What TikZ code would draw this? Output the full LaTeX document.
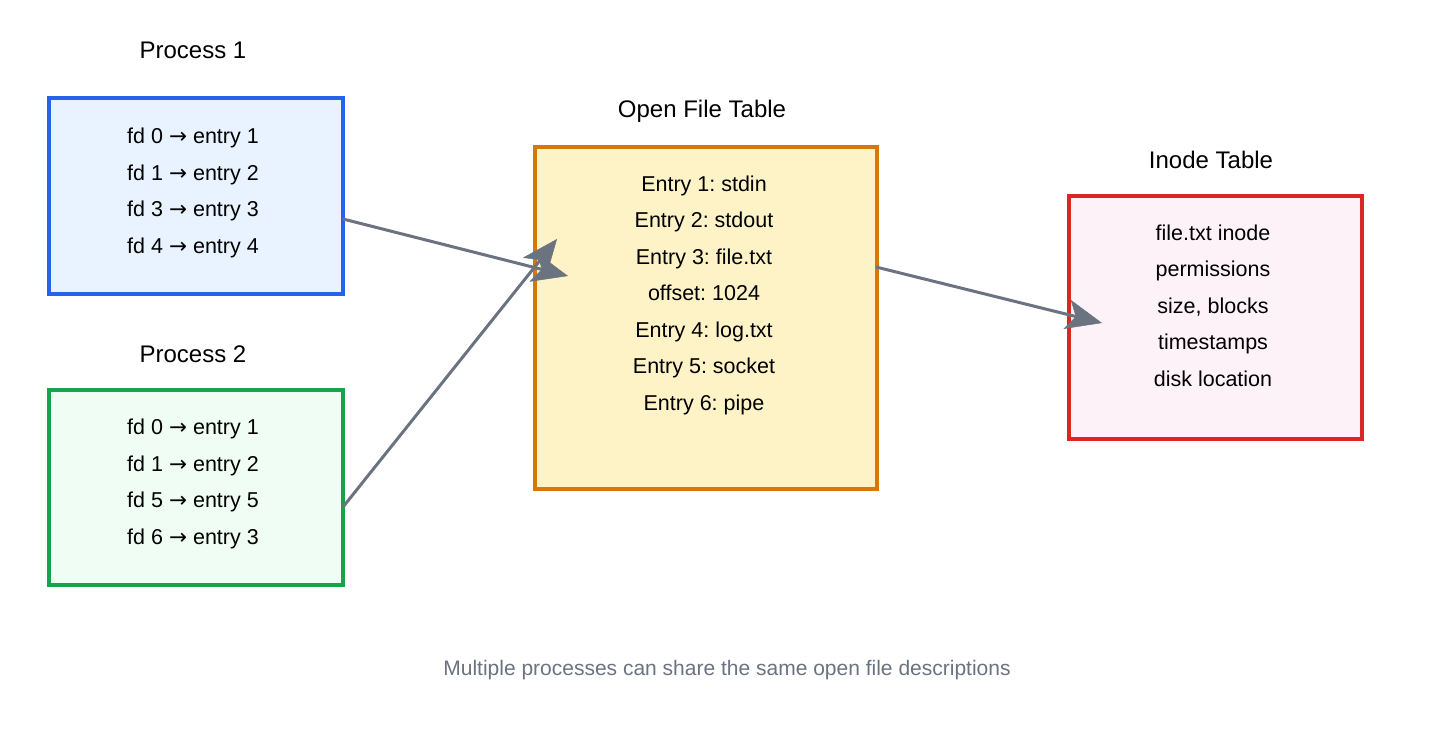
\documentclass[tikz,border=0pt]{standalone}
\usepackage{fontspec}
\setmainfont{Liberation Sans}
\newfontfamily\arr{DejaVu Sans}
\usetikzlibrary{arrows.meta}
\definecolor{gr}{HTML}{6B7280}
\newcommand{\ra}{{\arr\char"2192}}
\frenchspacing
\begin{document}
\begin{tikzpicture}[x=1pt,y=-1pt,
  box/.style={draw,line width=3.5pt,minimum width=#1,inner sep=0pt,anchor=north west},
  txt/.style={font=\fontsize{21.5}{36.5}\selectfont,align=center},
  ttl/.style={font=\fontsize{24}{26}\selectfont},
  con/.style={draw=gr,line width=3pt,-{Stealth[length=36pt,width=30pt,inset=9pt,fill=gr,line width=0.5pt]}}]
\useasboundingbox (0,0) rectangle (1456,728);
\node[ttl] (t1) at (193,50) {Process 1};
\node[ttl] (t2) at (193,354) {Process 2};
\node[ttl] (t3) at (702,111) {Open File Table};
\node[ttl] (t4) at (1211,160) {Inode Table};
\node[box=294pt,minimum height=196pt,draw={rgb,255:red,37;green,99;blue,235},fill={rgb,255:red,232;green,243;blue,255}] (p1) at (47,96) {};
\node[txt] (l1) at (193,193) {fd 0 \ra{} entry 1\\fd 1 \ra{} entry 2\\fd 3 \ra{} entry 3\\fd 4 \ra{} entry 4};
\node[box=294pt,minimum height=195pt,draw={rgb,255:red,22;green,163;blue,74},fill={rgb,255:red,240;green,253;blue,244}] (p2) at (47,388) {};
\node[txt] (l2) at (193,484) {fd 0 \ra{} entry 1\\fd 1 \ra{} entry 2\\fd 5 \ra{} entry 5\\fd 6 \ra{} entry 3};
\node[box=342pt,minimum height=342pt,draw={rgb,255:red,217;green,119;blue,6},fill={rgb,255:red,254;green,243;blue,199}] (of) at (533,145) {};
\node[txt,anchor=north] (l3) at (704,172) {Entry 1: stdin\\Entry 2: stdout\\Entry 3: file.txt\\offset: 1024\\Entry 4: log.txt\\Entry 5: socket\\Entry 6: pipe};
\node[box=293pt,minimum height=243pt,draw={rgb,255:red,220;green,38;blue,38},fill={rgb,255:red,253;green,242;blue,248}] (in) at (1067,194) {};
\node[txt,anchor=north] (l4) at (1213,221) {file.txt inode\\permissions\\size, blocks\\timestamps\\disk location};
\coordinate (a1) at (568,276);
\coordinate (a2) at (557,239);
\coordinate (a3) at (1102,323);
\draw[con] (343,219) -- (a1);
\draw[con] (343,507) -- (a2);
\draw[con] (876,267) -- (a3);
\node[text=gr,font=\fontsize{21}{24}\selectfont] (cap) at (727,670) {Multiple processes can share the same open file descriptions};
\end{tikzpicture}
\end{document}
